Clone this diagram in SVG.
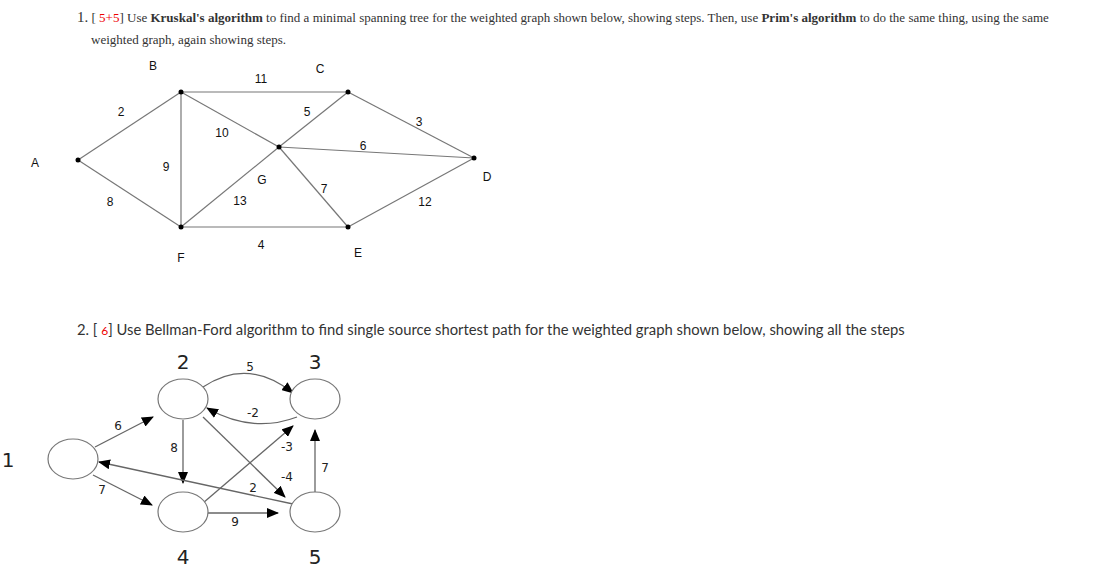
<svg xmlns="http://www.w3.org/2000/svg" width="1107" height="582" viewBox="0 0 1107 582">
<style>
.s{font-family:"Liberation Serif",serif;font-size:13px;fill:#333}
.l{font-family:"Liberation Sans",Arial,sans-serif;font-size:12px;fill:#111;text-anchor:middle}
.e{stroke:#777;stroke-width:1.2;fill:none}
.b{font-family:"DejaVu Sans",sans-serif;fill:#222;text-anchor:middle}
.d{stroke:#666;stroke-width:1.3;fill:none;marker-end:url(#ar)}
.n{fill:#fff;stroke:#777;stroke-width:1.2}
</style>
<defs><marker id="ar" markerWidth="12" markerHeight="10" refX="11" refY="5" orient="auto" markerUnits="userSpaceOnUse"><path d="M0,0L12,5L0,10z" fill="#000"/></marker></defs>
<rect width="1107" height="582" fill="#fff"/>
<text class="s" x="77" y="22"><tspan font-size="15">1.</tspan> [ <tspan fill="#e00">5+5</tspan>] Use <tspan font-weight="bold">Kruskal's algorithm</tspan> to find a minimal spanning tree for the weighted graph shown below, showing steps. Then, use <tspan font-weight="bold">Prim's algorithm</tspan> to do the same thing, using the same</text>
<text class="s" x="91" y="44">weighted graph, again showing steps.</text>
<g id="g1edges">
<line class="e" x1="78" y1="160" x2="181" y2="92"/><line class="e" x1="78" y1="160" x2="181" y2="227"/>
<line class="e" x1="181" y1="92" x2="348" y2="92"/><line class="e" x1="181" y1="92" x2="181" y2="227" stroke="#333"/>
<line class="e" x1="181" y1="92" x2="279" y2="147"/><line class="e" x1="348" y1="92" x2="279" y2="147"/>
<line class="e" x1="348" y1="92" x2="474" y2="158"/><line class="e" x1="279" y1="147" x2="474" y2="158" stroke="#333"/>
<line class="e" x1="279" y1="147" x2="181" y2="227"/><line class="e" x1="279" y1="147" x2="348" y2="227"/>
<line class="e" x1="181" y1="227" x2="348" y2="227" stroke="#333"/><line class="e" x1="348" y1="227" x2="474" y2="158"/>
</g>
<g id="g1nodes" fill="#000">
<g id="A"><circle cx="78" cy="160" r="2.5"/><text class="l" x="35" y="167">A</text></g>
<g id="B"><circle cx="181" cy="92" r="2.5"/><text class="l" x="153" y="70">B</text></g>
<g id="C"><circle cx="348" cy="92" r="2.5"/><text class="l" x="320" y="73">C</text></g>
<g id="G"><circle cx="279" cy="147" r="2.5"/><text class="l" x="262" y="184">G</text></g>
<g id="D"><circle cx="474" cy="158" r="2.5"/><text class="l" x="487" y="181">D</text></g>
<g id="F"><circle cx="181" cy="227" r="2.5"/><text class="l" x="181" y="262">F</text></g>
<g id="E"><circle cx="348" cy="227" r="2.5"/><text class="l" x="358" y="257">E</text></g>
</g>
<g id="g1labels">
<text class="l" x="261" y="83">11</text><text class="l" x="121" y="116">2</text><text class="l" x="307" y="116">5</text>
<text class="l" x="419" y="126">3</text><text class="l" x="222" y="137">10</text><text class="l" x="363" y="150">6</text>
<text class="l" x="166" y="171">9</text><text class="l" x="324" y="193">7</text><text class="l" x="110" y="206">8</text>
<text class="l" x="240" y="205">13</text><text class="l" x="425" y="206">12</text><text class="l" x="261" y="249">4</text>
</g>
<text x="77" y="335" font-family="Lato,sans-serif" font-size="14.8" fill="#333">2. [ <tspan fill="#e00" font-size="12">6</tspan>] Use Bellman-Ford algorithm to find single source shortest path for the weighted graph shown below, showing all the steps</text>
<g id="connectors">
<line class="d" x1="95" y1="447" x2="153" y2="417"/>
<line class="d" x1="93" y1="475" x2="152" y2="505"/>
<path class="d" d="M203,387 Q248,357 293,393"/>
<path class="d" d="M297,417 Q252,434 207,408"/>
<line class="d" x1="183" y1="420" x2="183" y2="483"/>
<line class="d" x1="203" y1="417" x2="285" y2="497"/>
<line class="d" x1="203" y1="503" x2="293" y2="426"/>
<line class="d" x1="293" y1="504" x2="99" y2="462"/>
<line class="d" x1="208" y1="513" x2="278" y2="513"/>
<line class="d" x1="315" y1="493" x2="315" y2="430"/>
</g>
<g id="n1"><ellipse class="n" cx="73" cy="459" rx="25" ry="20"/><text class="b" x="8" y="467" font-size="20">1</text></g>
<g id="n2"><ellipse class="n" cx="183" cy="399" rx="25" ry="20"/><text class="b" x="183" y="369" font-size="20">2</text></g>
<g id="n3"><ellipse class="n" cx="315" cy="399" rx="25" ry="20"/><text class="b" x="315" y="369" font-size="20">3</text></g>
<g id="n4"><ellipse class="n" cx="183" cy="512" rx="25" ry="20"/><text class="b" x="183" y="564" font-size="20">4</text></g>
<g id="n5"><ellipse class="n" cx="315" cy="512" rx="25" ry="20"/><text class="b" x="315" y="564" font-size="20">5</text></g>
<g id="g2labels" font-size="12">
<text class="b" x="118" y="430">6</text><text class="b" x="102" y="494">7</text><text class="b" x="250" y="371">5</text>
<text class="b" x="253" y="417">-2</text><text class="b" x="174" y="452">8</text><text class="b" x="287" y="451">-3</text>
<text class="b" x="287" y="481">-4</text><text class="b" x="325" y="472">7</text><text class="b" x="253" y="492">2</text>
<text class="b" x="235" y="526">9</text>
</g>
</svg>
